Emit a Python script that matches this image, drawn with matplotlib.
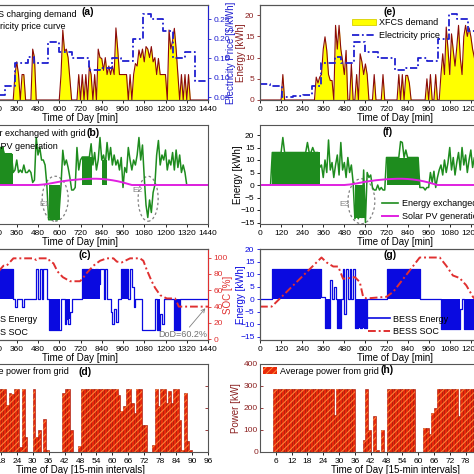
import numpy as np
import matplotlib.pyplot as plt
from matplotlib.patches import Ellipse, Patch
from matplotlib.lines import Line2D

plt.rcParams['font.family'] = ['Liberation Sans Narrow', 'Liberation Sans', 'DejaVu Sans']
plt.rcParams['font.size'] = 6
plt.rcParams['hatch.linewidth'] = 0.7
plt.rcParams['axes.linewidth'] = 0.8
plt.rcParams['axes.edgecolor'] = '#555555'

# --- 1. Data ---
# electricity price, step curve [$/kWh]
price_t = [0, 57, 125, 190, 246, 295, 350, 425, 460, 535, 600, 670, 770, 830, 900, 950,
           1015, 1075, 1120, 1185, 1245, 1310, 1365, 1440]
price_v = [0.084, 0.078, 0.050, 0.054, 0.056, 0.080, 0.137, 0.153, 0.137, 0.193, 0.167,
           0.150, 0.121, 0.124, 0.150, 0.143, 0.199, 0.265, 0.250, 0.220, 0.150, 0.167,
           0.093, 0.093]

# (a) XFCS charging demand, 10-min samples from t=250
dem_a_t0 = 250
dem_a = [0, 0, 0, 0, 0, 0, 0, 0, 0, 0,
         6, 9, 6, 0, 6, 6, 0, 0, 0, 0,
         12, 10, 0, 0, 0, 0, 0, 0, 0, 0,
         0, 0, 0, 0, 0, 0, 6, 16.5, 11.5, 12,
         10, 5, 0, 0, 0, 0, 6, 0, 6, 0,
         6, 0, 8, 6, 0, 6, 0, 12, 10, 9.8,
         7, 10, 6, 8, 6, 8, 6, 17, 12, 6,
         6, 6, 6, 6, 0, 6, 0, 6, 8.6, 8,
         11.8, 10, 12, 9, 12.6, 12, 10, 12.6, 9, 10,
         6, 9.8, 6, 6, 6, 6, 0, 16.5, 12, 14,
         16.9, 12, 6, 0, 6, 0, 6, 0, 6, 0,
         0, 0, 0, 0, 0, 0, 0, 0, 0, 0]

# (e) XFCS demand, 10-min samples from t=0
dem_e_t0 = 0
dem_e = [0, 0, 0, 0, 0, 0, 0, 0, 0, 0, 0, 0, 0, 6, 0,
         0, 0, 0, 0, 0, 0, 0, 0, 0, 0, 0, 0, 0, 0, 0, 0, 0,
         5.4, 4, 5.4, 6, 12, 14.9, 11.7, 6, 4.6, 4.6,
         0, 17.6, 12, 17.6, 12, 9.3, 6, 11.7, 0, 0,
         8.5, 0, 0, 6, 0, 10.9, 9, 6, 8.5, 6,
         0, 0, 0, 6, 0, 0, 0, 0, 6, 0,
         0, 0, 0, 0, 0, 0, 0, 6, 0, 6,
         0, 5.8, 5.8, 4, 0, 0, 0, 0, 0, 0,
         0, 0, 0, 5, 0, 6, 0, 0, 6, 0,
         0, 6, 10.9, 6, 17.2, 12, 6, 15.6, 11.7, 8,
         12.5, 17.6, 10, 6, 15, 17.6, 15, 17, 15, 12,
         10, 8]

# (b) power exchanged with grid, 10-min samples from t=260
grid_b_t0 = 260
grid_b = [15, 15, 15, 12.5, 12.5, 12.5, 12.5, 12.5, 5, 6,
          10, 5, 6, 5, 8, 5, 5, 6, 5, 1,
          2, 19, 12, 15, 10, 10, 8, 0, -13.9, -13.9,
          -13.9, -12, -13.9, -13.9, -10, 0, 13.9, 8, 10, 7,
          3, -2, -2, -1, 15, 6, 10, 11.2, 11.2, 11.2,
          11.2, 11.2, 16.5, 8, 13, 6, 10, 19, 10, 12,
          8, 17, 10, 15, 8, 12, 8, 10, 6, 11,
          -1, 7, 5, 15, 10, 6, 10, 8, 12, 19,
          10, 16, 3, -8, -13, -6, -11, -3, 0, 12,
          17.8, 8, 12, 10, 14, 6, 10, 8, 13, 6,
          14, 7, 12, 5, 8, 5, 0, 0, 0, 0,
          0, 0, 0, 0, 0, 0, 0, 0, 0]
blk_b_start = [260, 290, 540, 730, 840]
blk_b_end = [290, 340, 605, 785, 870]
blk_b_level = [15.2, 12.5, -13.9, 11.2, 10]

# (f) energy exchanged with grid, 10-min samples from t=0
grid_f_t0 = 0
grid_f = [0, 0, 0, 0, 0, 0, 0, 13, 13, 13,
          13, 13, 13, 19, 13, 13, 13, 13, 13, 13,
          13, 13, 13, 13, 13, 13, 13, 17, 13, 13,
          15, 13, 13, 13, 7, 8, 3, 10, 5, 18,
          6, 9, 3, 8, 12, 4, 17, 6, 9, 3,
          11, 5, 8, 1, -13.5, -12, -13.5, -8, -13, 6,
          -15, 5, 3, 4, -1, -2, -2, 0, -2, -1,
          -2, -2, 11, 11, 11, 11, 11, 11, 11, 11,
          17.4, 17, 11, 14, 11, 11, 11, 11, 11, 11,
          11, -1, -1, -1, -2, -1, -1, 5, 1, 5.5,
          -1, 3, 6, 8, 4, 10, 5, 9, 15, 6,
          11, 4, 9, 13, 6, 15, 8, 12, 5, 10,
          14, 7, 11, 5]
blk_f_start = [70, 540, 720]
blk_f_end = [340, 600, 905]
blk_f_level = [13.2, -13, 10.8]

# solar PV generation [kWh]
pv_t = [0, 480, 510, 540, 570, 600, 630, 660, 690, 720, 750, 780, 810, 840, 870, 900,
        930, 960, 990, 1010, 1440]
pv_v = [0, 0, 0.2, 0.5, 0.9, 1.3, 1.6, 1.9, 2.1, 2.3, 2.4, 2.5, 2.5, 2.4, 2.2, 1.9,
        1.5, 1.0, 0.4, 0, 0]

# (c) BESS energy, 10-min samples from t=260
bess_c_t0 = 260
bess_c = [12, 12, 12, 12, 12, 12, 12, 12, 0, -3,
          0, 0, 0, -3, 0, 0, 0, 0, 0, 0,
          0, 12, 0, 12, 0, 12, 12, 0, -12.5, -12.5,
          -12.5, -12.5, -12.5, -12.5, -12.5, 0, 0, -10, -8, -10,
          -5, 0, 0, 0, 0, 0, 0, 12, 12, 12,
          12, 12, 12, 6, 12, 12, 6, 12, 12, 0,
          12, 0, 0, -5, -10, -4, -9, 0, 0, 12,
          12, 12, 12, 0, 12, 5, -3, 0, 0, 0,
          0, -12.5, -12.5, -12.5, -12.5, -12.5, -12.5, -12.5, 0, -12.5,
          -12.5, -6, -10, 0, 0, 0, 0, 0, 0, -12.5,
          -12.5, -12.5, 0, 0, 0, 0, 0, 0, 0, 0,
          0, 0, 0, 0, 0, 0, 0, 0, 0]
blk_c_start = [260, 545, 630, 727, 950, 1150, 1250]
blk_c_end = [340, 605, 660, 830, 990, 1170, 1280]
blk_c_level = [12, -12.5, -8, 12, 12, -12.5, -12.5]
soc_c_t = [250, 265, 285, 303, 341, 454, 470, 482, 538, 548, 567, 590, 620, 661, 717, 727,
           755, 793, 830, 868, 906, 925, 953, 972, 1000, 1056, 1075, 1094, 1122, 1141,
           1170, 1207, 1254, 1265, 1275, 1440]
soc_c_v = [80, 85, 90, 90, 99, 99, 97, 99, 99, 95, 93, 83, 76, 71, 71, 73,
           81, 90, 96, 99, 99, 95, 94, 96, 99, 99, 96, 85, 71, 63,
           54, 50, 50, 45, 40, 40]

# (g) BESS energy, 10-min samples from t=0
bess_g_t0 = 0
bess_g = [0, 0, 0, 0, 0, 0, 0, 12, 12, 12,
          12, 12, 12, 12, 12, 12, 12, 12, 12, 12,
          12, 12, 12, 12, 12, 12, 12, 12, 12, 12,
          12, 12, 12, 12, 12, 1, 1, -11.4, -11.4, -11.4,
          7.6, 0, 5, 0, -11.4, -11.4, 0, 12, -6, 12,
          0, 12, 0, 12, -11.4, -11.4, -6, -11.4, -5, -11.4,
          -11.4, 0, 0, 0, 0, 0, 0, 0, 0, 0,
          0, 0, 12, 12, 12, 12, 12, 12, 12, 12,
          12, 12, 12, 12, 12, 12, 12, 12, 12, 12,
          12, 0, 0, 0, 0, 0, 0, 0, 0, 0,
          0, 0, 0, -12, -12, -12, -12, -12, -12, -12,
          -12, -12, -12, -12, -4, 0, -12, -12, -12, -12,
          -12, -12, -12, -12]
blk_g_start = [70, 370, 440, 540, 720, 1030, 1160]
blk_g_end = [350, 400, 460, 610, 910, 1140, 1240]
blk_g_level = [12, -11.4, -11.4, -11.4, 12, -12, -12]
soc_g_t = [0, 66, 76, 350, 379, 417, 445, 473, 511, 540, 568, 587, 606, 720, 758, 909,
           1023, 1060, 1098, 1136, 1174, 1212, 1240]
soc_g_v = [40, 40, 42, 100, 94, 89, 89, 74, 75, 76, 70, 52, 50, 52, 58, 100,
           100, 90, 78, 75, 66, 52, 45]

# (d) average power from grid per 15-min interval, from interval 17
pow_d_k0 = 17
pow_d = [288, 288, 288, 212, 270, 262, 288, 288, 25, 288,
         67, 0, 0, 288, 67, 98, 0, 150, 9, 0,
         0, 0, 0, 0, 270, 288, 288, 100, 0, 0,
         28, 288, 288, 288, 288, 288, 288, 288, 288, 288,
         288, 288, 288, 288, 288, 258, 185, 208, 288, 288,
         224, 178, 288, 288, 124, 124, 0, 0, 32, 288,
         208, 288, 288, 224, 278, 224, 288, 288, 147, 9,
         270, 48, 9, 0, 0, 0, 0, 0, 0]

# (h) average power from grid per 15-min interval, from interval 0
pow_h_k0 = 0
pow_h = ([0, 0, 0, 0, 0] + [288] * 23 + [170] + [288] * 7 + [0, 0, 0]
         + [55, 288, 98, 0, 162, 9, 0, 100, 0] + [288] * 11 + [0, 0, 0]
         + [109, 109, 83, 178, 200] + [288] * 8 + [162] + [288] * 6)

# --- 2. Style ---
YEL = '#ffff00'
DRED = '#8b0a0a'
BROWN = '#8b2020'
PBLUE = '#2020d0'
GREEN = '#1e8c1e'
MAG = '#e020e0'
BBLUE = '#0a0ae0'
SRED = '#e03030'
BAR = '#e8280a'
HATCH = '#ff8a3a'
GRAY = '#808080'
DASHDOT = (0, (4, 1.5, 1, 1.5))
TICK_FS, LAB_FS, LEG_FS = 6, 7, 6.5

W = 474
fig = plt.figure(figsize=(4.74, 4.74), dpi=100)


def add_ax(x0, y0, x1, y1):
    return fig.add_axes([x0 / W, 1 - y1 / W, (x1 - x0) / W, (y1 - y0) / W])


LEFT = (-47, 208)
RIGHT = (260, 513)
ROWS = [(5, 100), (125, 224), (249, 340), (364, 452)]


def base_style(ax, minutes=True, label_x=0.5):
    if minutes:
        ax.set_xlim(0, 1440)
        ax.set_xticks(np.arange(0, 1441, 120))
        ax.set_xlabel('Time of Day [min]', fontsize=LAB_FS, labelpad=0.5)
    else:
        ax.set_xlim(0, 96)
        ax.set_xticks(np.arange(6, 97, 6))
        ax.set_xlabel('Time of Day [15-min intervals]', fontsize=LAB_FS, labelpad=0.5)
    ax.xaxis.label.set_x(label_x)
    ax.tick_params(labelsize=TICK_FS, length=2.5, width=0.6, pad=1.5)


def panel_label(ax, x, y, s):
    ax.text(x, y, s, transform=ax.transAxes, fontsize=7.5, fontweight='bold',
            ha='center', va='center', zorder=10)


def legend(ax, handles, labels, x, y, hl=2.0):
    ax.legend(handles, labels, loc='upper left', bbox_to_anchor=(x, y), frameon=False,
              fontsize=LEG_FS, handlelength=hl, handletextpad=0.4, labelspacing=0.4,
              borderpad=0, borderaxespad=0)


def series_t(t0, vals):
    return t0 + 10 * np.arange(len(vals))


def blocks(ax, starts, ends, levels, color):
    for s, e, lv in zip(starts, ends, levels):
        ax.fill_between([s, e], 0, lv, color=color, lw=0)


def demand_panel(ax, t0, vals):
    t = series_t(t0, vals)
    ax.fill_between(t, 0, vals, color=YEL, lw=0)
    ax.plot(t, vals, color=DRED, lw=0.8)
    ax.set_ylim(0, 22.4)
    axp = ax.twinx()
    axp.step(price_t, price_v, where='post', color=PBLUE, lw=1.3, ls=DASHDOT)
    axp.set_ylim(0.043, 0.287)
    axp.set_yticks([0.05, 0.10, 0.15, 0.20, 0.25])
    axp.yaxis.set_major_formatter('{x:.2f}')
    axp.tick_params(labelsize=TICK_FS, length=2.5, width=0.6, pad=1.5, colors=PBLUE)
    axp.spines['right'].set_color(PBLUE)
    axp.set_ylabel('Electricity Price [\\$/kWh]', color=PBLUE, fontsize=LAB_FS)
    axp.yaxis.set_label_coords(1.072, 0.5)
    return axp


def grid_panel(ax, t0, vals, bs, be, bl):
    t = series_t(t0, vals)
    blocks(ax, bs, be, bl, GREEN)
    ax.plot(t, vals, color=GREEN, lw=1.1)
    ax.plot(pv_t, pv_v, color=MAG, lw=1.4)
    ax.set_ylim(-15.6, 24)
    ax.set_yticks(np.arange(-15, 21, 5))
    ax.set_ylabel('Energy [kWh]', fontsize=LAB_FS)
    ax.yaxis.set_label_coords(-0.069, 0.5)


def bess_panel(ax, t0, vals, bs, be, bl, st, sv):
    t = series_t(t0, vals)
    blocks(ax, bs, be, bl, BBLUE)
    ax.step(t, vals, where='post', color=BBLUE, lw=0.9)
    ax.set_ylim(-16.3, 20)
    ax.set_yticks(np.arange(-15, 21, 5))
    ax.set_ylabel('Energy [kWh]', color=BBLUE, fontsize=LAB_FS)
    ax.yaxis.set_label_coords(-0.057, 0.5)
    ax.tick_params(axis='y', colors=BBLUE)
    axs = ax.twinx()
    axs.plot(st, sv, color=SRED, lw=1.4, ls=DASHDOT)
    axs.set_ylim(-0.8, 110.4)
    axs.set_yticks(np.arange(0, 101, 20))
    axs.tick_params(labelsize=TICK_FS, length=2.5, width=0.6, pad=1.5, colors=SRED)
    axs.spines['right'].set_color(SRED)
    axs.set_ylabel('SOC [%]', color=SRED, fontsize=LAB_FS)
    axs.yaxis.set_label_coords(1.058, 0.5)
    return axs


def power_panel(ax, k0, vals):
    k = k0 + np.arange(len(vals))
    ax.bar(k, vals, width=1, align='edge', color=BAR, edgecolor='#a01000', lw=0.4)
    ax.bar(k, vals, width=1, align='edge', color='none', edgecolor=HATCH, hatch='/////', lw=0)
    ax.set_ylim(0, 400)
    ax.set_yticks(np.arange(0, 401, 100))
    ax.set_ylabel('Power [kW]', color=BROWN, fontsize=LAB_FS)
    ax.yaxis.set_label_coords(-0.074, 0.5)
    ax.tick_params(axis='y', colors=BROWN)
    ax.tick_params(axis='y', right=True, direction='in')


def pow_handle():
    return Patch(facecolor=BAR, edgecolor=HATCH, hatch='/////', lw=0)


# --- 3. Panels ---
# (a)
ax = add_ax(LEFT[0], ROWS[0][0], LEFT[1], ROWS[0][1])
axp = demand_panel(ax, dem_a_t0, dem_a)
base_style(ax)
legend(axp, [Patch(facecolor=YEL, edgecolor=DRED, lw=0.8),
             Line2D([], [], color=PBLUE, lw=1.3, ls=DASHDOT)],
       ['XFCS charging demand', 'Electricity price curve'], 0.02, 0.95)
panel_label(axp, 0.53, 0.926, '(a)')

# (e)
ax = add_ax(RIGHT[0], ROWS[0][0], RIGHT[1], ROWS[0][1])
axp = demand_panel(ax, dem_e_t0, dem_e)
base_style(ax, label_x=0.534)
ax.set_ylabel('Energy [kWh]', color=BROWN, fontsize=LAB_FS)
ax.yaxis.set_label_coords(-0.057, 0.5)
ax.tick_params(axis='y', colors=BROWN)
ax.set_yticks(np.arange(0, 21, 5))
legend(axp, [Patch(facecolor=YEL, edgecolor='#d8d000', lw=0.6),
             Line2D([], [], color=PBLUE, lw=1.3, ls=DASHDOT)],
       ['XFCS demand', 'Electricity price'], 0.364, 0.86, hl=2.6)
panel_label(axp, 0.514, 0.926, '(e)')

# (b)
ax = add_ax(LEFT[0], ROWS[1][0], LEFT[1], ROWS[1][1])
grid_panel(ax, grid_b_t0, grid_b, blk_b_start, blk_b_end, blk_b_level)
base_style(ax)
for (cx, w, lab, lx, ly) in [(577, 147, 'E1', 515, -8), (1102, 113, 'E2', 1040, -2)]:
    ax.add_patch(Ellipse((cx, -5.5), w, 18, fill=False, ec=GRAY, lw=0.9, ls=(0, (2, 2))))
    ax.text(lx, ly, lab, color=GRAY, fontsize=6, ha='center', va='center')
legend(ax, [Line2D([], [], color=GREEN, lw=1.2), Line2D([], [], color=MAG, lw=1.4)],
       ['Power exchanged with grid', 'Solar PV generation'], 0.01, 0.96)
panel_label(ax, 0.55, 0.92, '(b)')

# (f)
ax = add_ax(RIGHT[0], ROWS[1][0], RIGHT[1], ROWS[1][1])
grid_panel(ax, grid_f_t0, grid_f, blk_f_start, blk_f_end, blk_f_level)
base_style(ax, label_x=0.534)
ax.add_patch(Ellipse((577, -6.5), 153, 18, fill=False, ec=GRAY, lw=0.9, ls=(0, (2, 2))))
ax.text(480, -8, 'E3', color=GRAY, fontsize=6, ha='center', va='center')
legend(ax, [Line2D([], [], color=GREEN, lw=1.2), Line2D([], [], color=MAG, lw=1.4)],
       ['Energy exchanged with grid', 'Solar PV generation'], 0.482, 0.25, hl=1.8)
panel_label(ax, 0.506, 0.93, '(f)')

# (c)
ax = add_ax(LEFT[0], ROWS[2][0], LEFT[1], ROWS[2][1])
axs = bess_panel(ax, bess_c_t0, bess_c, blk_c_start, blk_c_end, blk_c_level, soc_c_t, soc_c_v)
base_style(ax)
axs.annotate('DoD=60.2%', xy=(1425, 38), xytext=(1300, 6), ha='center', va='center',
             color='#707070', fontsize=6.5,
             arrowprops=dict(arrowstyle='->', color=GRAY, lw=0.6, shrinkA=0, shrinkB=0))
legend(axs, [Line2D([], [], color=BBLUE, lw=1.2), Line2D([], [], color=SRED, lw=1.4, ls=DASHDOT)],
       ['BESS Energy', 'BESS SOC'], 0.028, 0.27)
panel_label(axs, 0.518, 0.934, '(c)')

# (g)
ax = add_ax(RIGHT[0], ROWS[2][0], RIGHT[1], ROWS[2][1])
axs = bess_panel(ax, bess_g_t0, bess_g, blk_g_start, blk_g_end, blk_g_level, soc_g_t, soc_g_v)
base_style(ax, label_x=0.534)
legend(axs, [Line2D([], [], color=BBLUE, lw=1.2), Line2D([], [], color=SRED, lw=1.4, ls=DASHDOT)],
       ['BESS Energy', 'BESS SOC'], 0.427, 0.28, hl=2.4)
panel_label(axs, 0.514, 0.934, '(g)')

# (d)
ax = add_ax(LEFT[0], ROWS[3][0], LEFT[1], ROWS[3][1])
power_panel(ax, pow_d_k0, pow_d)
base_style(ax, minutes=False)
legend(ax, [pow_handle()], ['Average power from grid'], 0.0, 0.97, hl=1.5)
panel_label(ax, 0.518, 0.91, '(d)')

# (h)
ax = add_ax(RIGHT[0], ROWS[3][0], RIGHT[1], ROWS[3][1])
power_panel(ax, pow_h_k0, pow_h)
base_style(ax, minutes=False, label_x=0.534)
legend(ax, [pow_handle()], ['Average power from grid'], 0.012, 0.97, hl=1.5)
panel_label(ax, 0.502, 0.93, '(h)')

fig.savefig('out.png', dpi=100)
